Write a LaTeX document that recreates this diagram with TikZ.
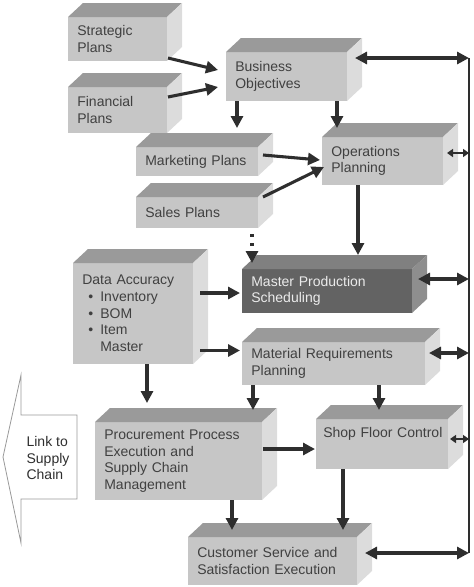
\documentclass[tikz,border=0pt]{standalone}
\usepackage{fontspec}
\setmainfont{Liberation Sans}
\usepackage{xcolor}
\usepackage{tikz}
\usetikzlibrary{arrows.meta, positioning, calc}

\definecolor{frontgray}{HTML}{C6C6C6}
\definecolor{topgray}{HTML}{9A9A9A}
\definecolor{sidegray}{HTML}{DCDCDC}
\definecolor{mpsfront}{HTML}{636363}
\definecolor{mpstop}{HTML}{808080}
\definecolor{mpsside}{HTML}{8E8E8E}
\definecolor{inkgray}{HTML}{2E2E2E}
\definecolor{textgray}{HTML}{404040}

\newcommand{\dotitem}{\hspace*{4.5pt}\makebox[9pt][l]{•}}
\newcommand{\dotcont}{\hspace*{13.5pt}}

\begin{document}
\begin{tikzpicture}[
    x=0.75pt, y=-0.75pt,
    box/.style={rectangle, fill=frontgray, anchor=north west, align=left, inner xsep=7pt, inner ysep=0pt, outer sep=0pt, text=textgray, font=\fontsize{10.5}{12.5}\selectfont},
    mpsbox/.style={box, fill=mpsfront, text=white!92!black},
    arrow/.style={inkgray, line width=2.3pt, -{Triangle[length=9pt,width=9pt]}},
    dotarrow/.style={arrow, dash pattern=on 2.2pt off 4.6pt},
    dblarrow/.style={inkgray, line width=2.3pt, {Triangle[length=9pt,width=9pt]}-{Triangle[length=9pt,width=9pt]}},
    smalldbl/.style={inkgray, line width=1.6pt, {Triangle[length=4.5pt,width=6pt]}-{Triangle[length=4.5pt,width=6pt]}},
    bus/.style={inkgray, line width=1.7pt},
    linkarrow/.style={draw=gray!80, line width=0.6pt}
]
\useasboundingbox (0,0) rectangle (474,587);

% front faces
\node[box, text width=60.25pt, minimum height=33pt] (strat) at (68,17) {Strategic\\Plans};
\node[box, text width=60.25pt, minimum height=34.5pt] (fin) at (68,87) {Financial\\Plans};
\node[box, text width=76.75pt, minimum height=36.75pt] (biz) at (226,52) {Business\\Objectives};
\node[box, text width=77.5pt, minimum height=21.75pt] (mkt) at (136,147) {Marketing Plans};
\node[box, text width=77.5pt, minimum height=23.25pt] (sales) at (136,197) {Sales Plans};
\node[box, text width=76.75pt, minimum height=36pt] (ops) at (322,137) {Operations\\Planning};
\node[box, text width=76pt, minimum height=75.75pt] (data) at (73,263) {Data Accuracy\\\dotitem Inventory\\\dotitem BOM\\\dotitem Item\\\dotcont Master};
\node[mpsbox, text width=113.5pt, minimum height=33pt] (mps) at (242,269) {Master Production\\Scheduling};
\node[box, text width=123.25pt, minimum height=32.25pt] (mrp) at (242,342) {Material Requirements\\Planning};
\node[box, text width=111.25pt, minimum height=58.5pt] (proc) at (95,422) {Procurement Process\\Execution and\\Supply Chain\\Management};
\node[box, inner xsep=5.5pt, text width=88pt, minimum height=37.5pt, text depth=18pt] (shop) at (316,419) {\mbox{Shop Floor Control}};
\node[box, text width=112.75pt, minimum height=36pt] (cust) at (188,537) {Customer Service and\\Satisfaction Execution};

% top and side faces
\foreach \n/\tc/\sc in {strat/topgray/sidegray, fin/topgray/sidegray, biz/topgray/sidegray,
    mkt/topgray/sidegray, sales/topgray/sidegray, ops/topgray/sidegray, data/topgray/sidegray,
    mps/mpstop/mpsside, mrp/topgray/sidegray, proc/topgray/sidegray, shop/topgray/sidegray,
    cust/topgray/sidegray} {
  \fill[\tc] (\n.north west) -- ++(15,-14) -- ([shift={(15,-14)}]\n.north east) -- (\n.north east) -- cycle;
  \fill[\sc] (\n.north east) -- ([shift={(15,-14)}]\n.north east) -- ([shift={(15,-14)}]\n.south east) -- (\n.south east) -- cycle;
}

% link to supply chain
\draw[linkarrow] (77,415) -- (21,415) -- (21,375) -- (3,457) -- (21,543) -- (21,499) -- (77,499) -- cycle;
\node[align=left, text=inkgray, font=\fontsize{10.5}{12.5}\selectfont] (link) at (48,458) {Link to\\Supply\\Chain};

% bus on the right
\coordinate (busbiz) at (469,58);
\coordinate (busops) at (469,153);
\coordinate (busmps) at (469,279);
\coordinate (busmrp) at (469,353);
\coordinate (busshop) at (469,439);
\coordinate (buscust) at (469,553);
\draw[bus] (busbiz) -- (buscust);

\draw[dblarrow] ([shift={(8,-18.5)}]biz.east) -- (busbiz);
\draw[smalldbl] ([shift={(4,-8)}]ops.east) -- (busops);
\draw[dblarrow] ([shift={(6,-12)}]mps.east) -- (busmps);
\draw[dblarrow] ([shift={(4,-10.5)}]mrp.east) -- (busmrp);
\draw[smalldbl] ([shift={(2,-5)}]shop.east) -- (busshop);
\draw[dblarrow] ([shift={(8,-8)}]cust.east) -- (buscust);

% flow
\draw[arrow] ([shift={(1,19)}]strat.east) -- ([shift={(-8,-6.5)}]biz.west);
\draw[arrow] ([shift={(1,-13)}]fin.east) -- ([shift={(-8,10.5)}]biz.west);
\draw[arrow] ([shift={(-49.5,0)}]biz.south) -- ([shift={(40,-19)}]mkt.north);
\draw[arrow] ([shift={(50.5,0)}]biz.south) -- ([shift={(-45.5,-9)}]ops.north);
\draw[arrow] ([shift={(5,-6.5)}]mkt.east) -- ([shift={(-2,-1)}]ops.west);
\draw[arrow] ([shift={(5,-15.5)}]sales.east) -- ([shift={(2,6)}]ops.west);
\draw[dotarrow] ([shift={(55,6)}]sales.south) -- ([shift={(10,-6)}]mps.north west);
\draw[arrow] ([shift={(-24.5,0)}]ops.south) -- ([shift={(31,-14)}]mps.north);
\draw[arrow] ([shift={(7,-20.5)}]data.east) -- ([shift={(-2,2)}]mps.west);
\draw[arrow] ([shift={(7,37)}]data.east) -- ([shift={(-2,-13)}]mrp.west);
\draw[arrow] ([shift={(14,0)}]data.south) -- ([shift={(-31.5,-19)}]proc.north);
\draw[arrow] ([shift={(-80.5,0)}]mrp.south) -- ([shift={(74.5,-12)}]proc.north);
\draw[arrow] ([shift={(45.5,0)}]mrp.south) -- ([shift={(-3,-9)}]shop.north);
\draw[arrow] ([shift={(1,-12)}]proc.east) -- ([shift={(-1,5)}]shop.west);
\draw[arrow] ([shift={(53.5,0)}]proc.south) -- ([shift={(-40.5,-7)}]cust.north);
\draw[arrow] ([shift={(-39,0)}]shop.south) -- ([shift={(70.5,-7)}]cust.north);

\end{tikzpicture}
\end{document}
